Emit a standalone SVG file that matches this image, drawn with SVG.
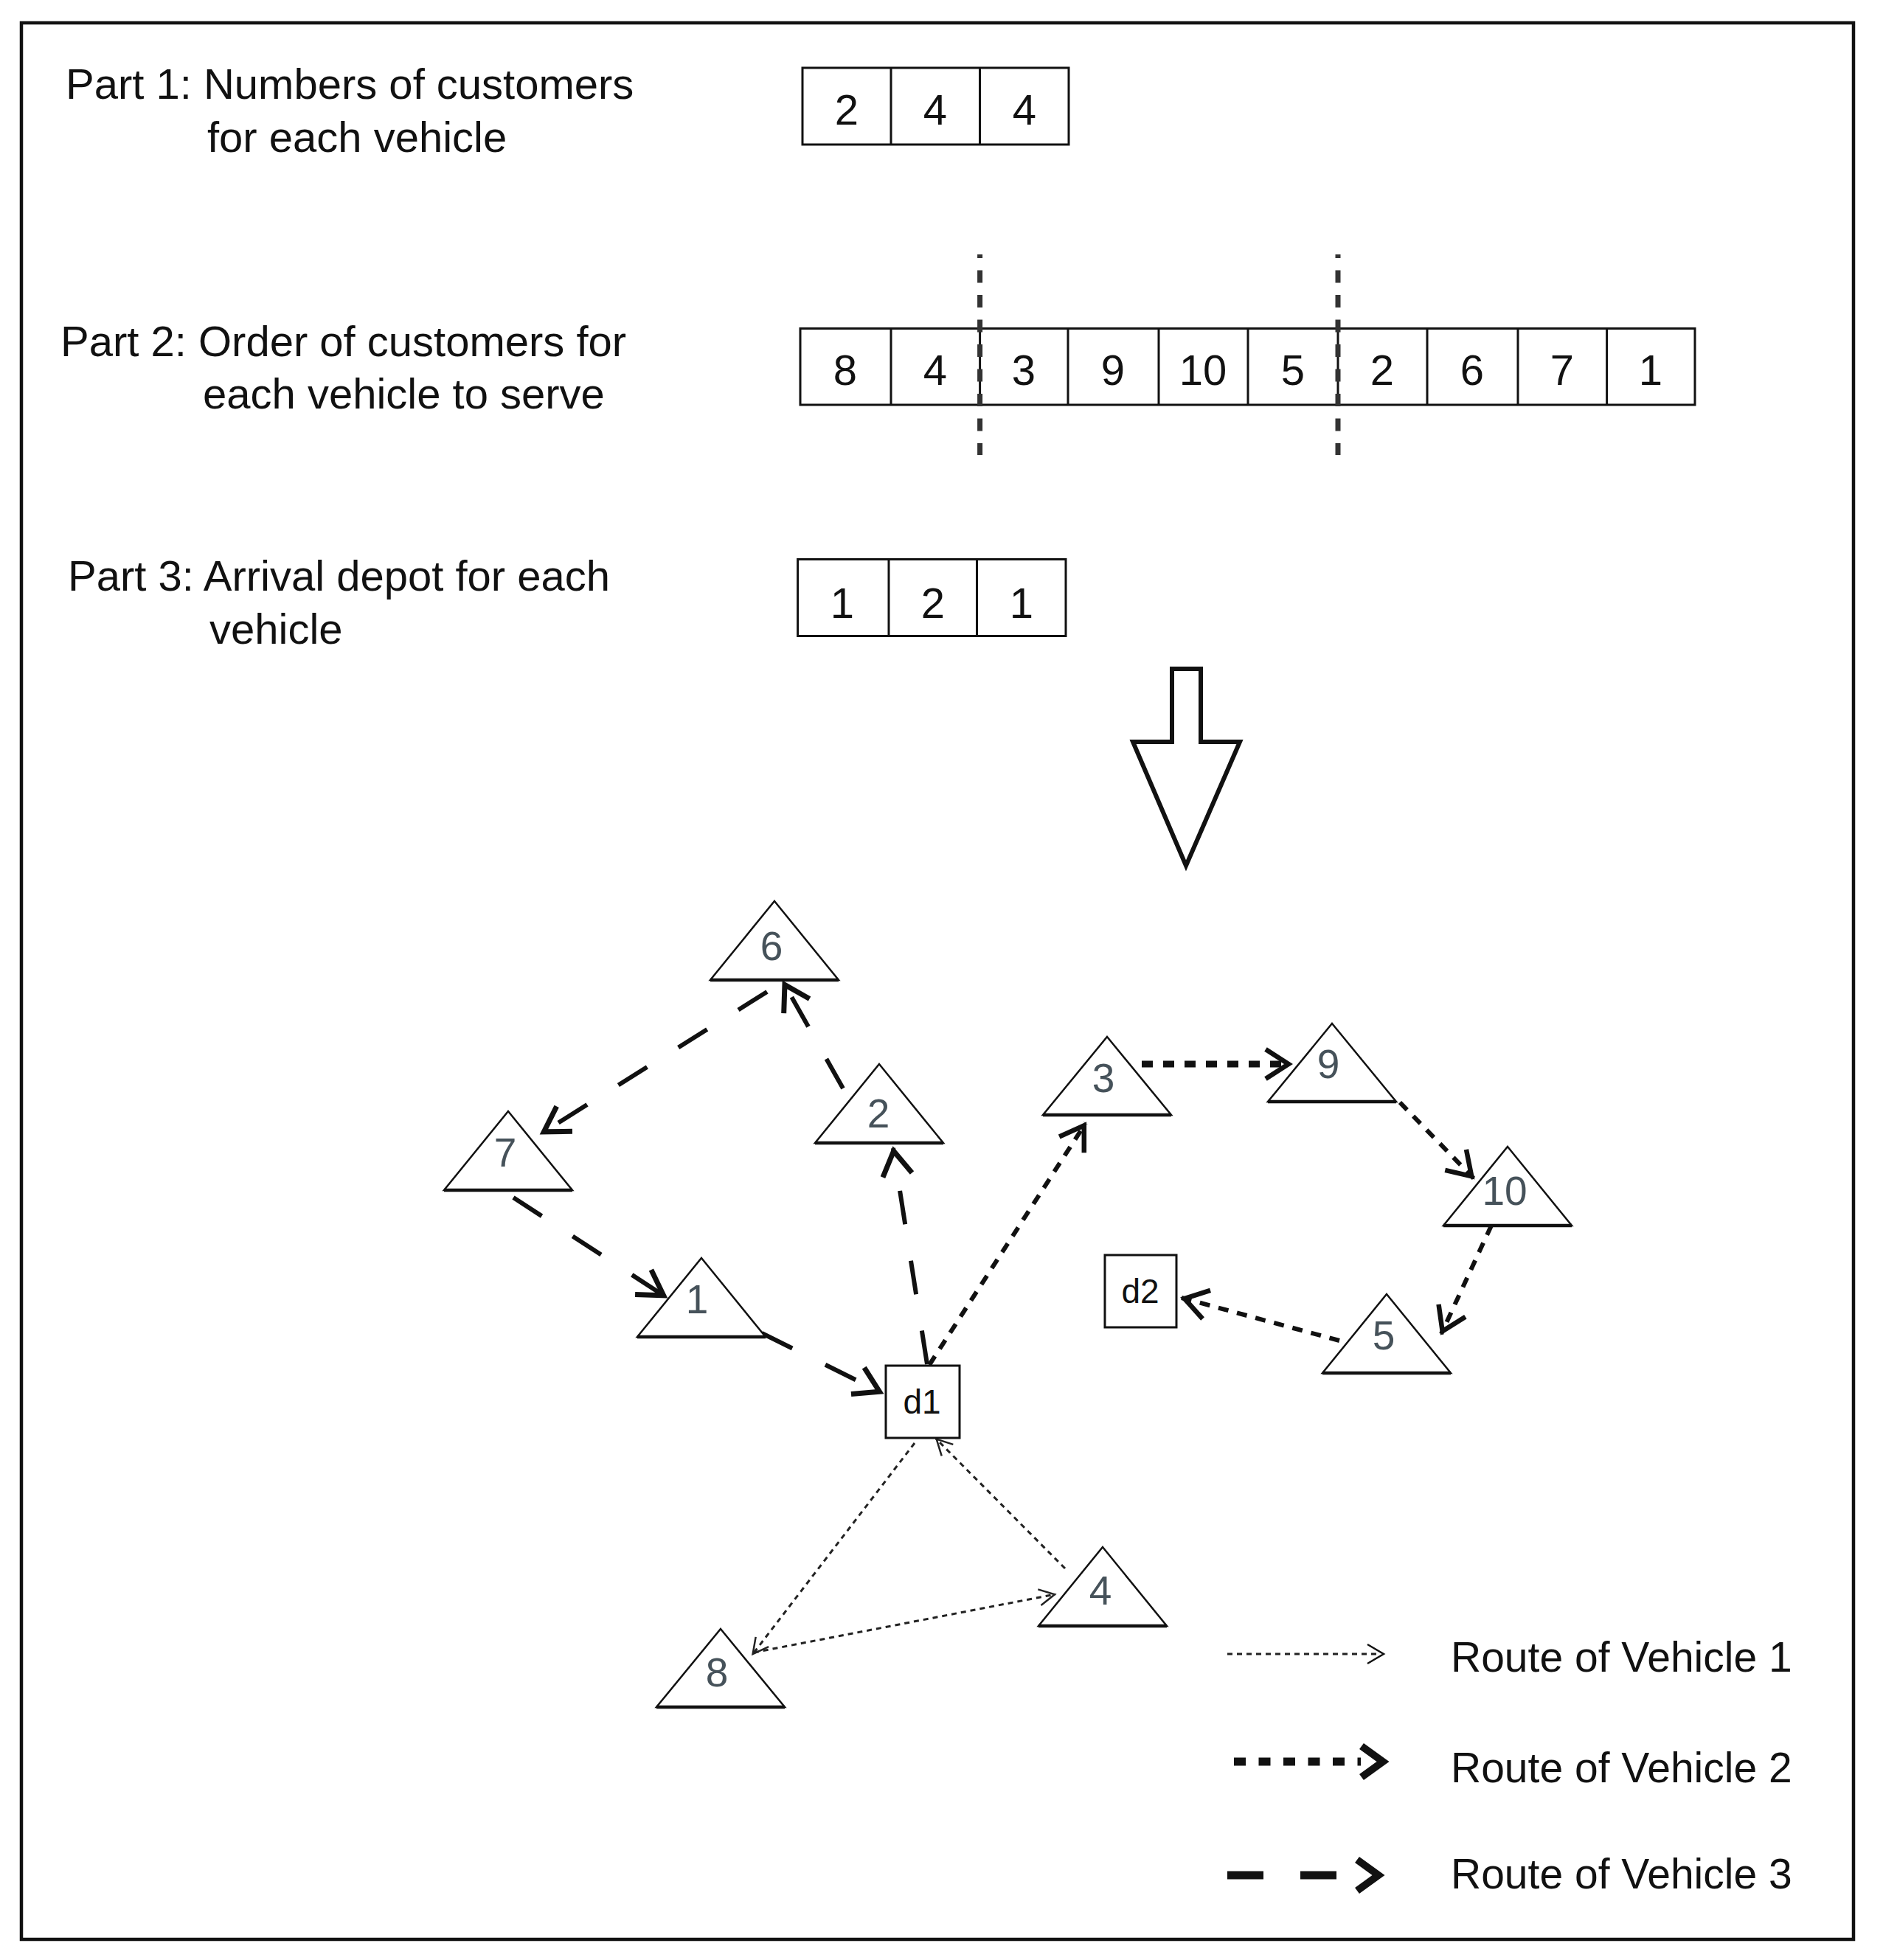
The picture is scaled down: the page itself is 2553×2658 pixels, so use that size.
<svg xmlns="http://www.w3.org/2000/svg" width="2553" height="2658" viewBox="0 0 2553 2658">
<style>
.t{font-family:"Liberation Sans",Arial,Helvetica,sans-serif;font-size:58px;fill:#111}
.lg{font-size:57px}
.c{text-anchor:middle}
.box{fill:#fff;stroke:#111;stroke-width:3}
.div{stroke:#111;stroke-width:3}
.sep{stroke:#333;stroke-width:7;stroke-dasharray:17 16.5;stroke-dashoffset:12}
.tri{fill:#fff;stroke:#111;stroke-width:2.5;stroke-linejoin:miter}
.base{stroke:#111;stroke-width:4.5}
.lab{font-family:"Liberation Sans",Arial,Helvetica,sans-serif;font-size:55px;fill:#46525a;text-anchor:middle}
.dep{fill:#fff;stroke:#111;stroke-width:3}
.dlab{font-family:"Liberation Sans",Arial,Helvetica,sans-serif;font-size:46px;fill:#111;text-anchor:middle}
.v1{fill:none;stroke:#222;stroke-width:3;stroke-dasharray:7 6;marker-end:url(#m1)}
.v2{fill:none;stroke:#111;stroke-width:6;stroke-dasharray:14 12;marker-end:url(#m2)}
.v2b{fill:none;stroke:#111;stroke-width:9;stroke-dasharray:15 14;marker-end:url(#m2)}
.v3{fill:none;stroke:#111;stroke-width:6;stroke-dasharray:46 50;marker-end:url(#m3)}
.ah{fill:none;stroke:#111;stroke-linejoin:miter}
</style>
<defs>
<marker id="m3" markerUnits="userSpaceOnUse" markerWidth="80" markerHeight="80" viewBox="-60 -40 80 80" refX="0" refY="0" orient="auto">
<path d="M-37,-20 L-4,0 L-37,20" fill="none" stroke="#111" stroke-width="7"/>
</marker>
<marker id="m2" markerUnits="userSpaceOnUse" markerWidth="80" markerHeight="80" viewBox="-60 -40 80 80" refX="0" refY="0" orient="auto">
<path d="M-35,-20 L-4,0 L-35,20" fill="none" stroke="#111" stroke-width="6.5"/>
</marker>
<marker id="m1" markerUnits="userSpaceOnUse" markerWidth="60" markerHeight="60" viewBox="-40 -30 60 60" refX="0" refY="0" orient="auto">
<path d="M-22,-11 L-1,0 L-22,11" fill="none" stroke="#222" stroke-width="2.5"/>
</marker>
</defs>
<rect width="2553" height="2658" fill="#fff"/>
<rect id="frame" x="29" y="31" width="2484" height="2599" fill="none" stroke="#111" stroke-width="4.5"/>

<g id="part1">
<text class="t" x="89" y="134">Part 1: Numbers of customers</text>
<text class="t" x="281" y="206">for each vehicle</text>
<rect class="box" x="1088" y="92" width="361" height="104"/>
<line class="div" x1="1208" y1="92" x2="1208" y2="196"/>
<line class="div" x1="1328.5" y1="92" x2="1328.5" y2="196"/>
<text class="t c" x="1148" y="169">2</text>
<text class="t c" x="1268" y="169">4</text>
<text class="t c" x="1389" y="169">4</text>
</g>

<g id="part2">
<text class="t" x="82" y="483">Part 2: Order of customers for</text>
<text class="t" x="275" y="554">each vehicle to serve</text>
<rect class="box" x="1085" y="445.5" width="1213" height="103.5"/>
<line class="div" x1="1208" y1="445.5" x2="1208" y2="549"/>
<line class="div" x1="1328.6" y1="445.5" x2="1328.6" y2="549"/>
<line class="div" x1="1448" y1="445.5" x2="1448" y2="549"/>
<line class="div" x1="1571" y1="445.5" x2="1571" y2="549"/>
<line class="div" x1="1692" y1="445.5" x2="1692" y2="549"/>
<line class="div" x1="1814" y1="445.5" x2="1814" y2="549"/>
<line class="div" x1="1935" y1="445.5" x2="1935" y2="549"/>
<line class="div" x1="2058" y1="445.5" x2="2058" y2="549"/>
<line class="div" x1="2178.6" y1="445.5" x2="2178.6" y2="549"/>
<text class="t c" x="1146" y="522">8</text>
<text class="t c" x="1268" y="522">4</text>
<text class="t c" x="1388" y="522">3</text>
<text class="t c" x="1509" y="522">9</text>
<text class="t c" x="1631" y="522">10</text>
<text class="t c" x="1753" y="522">5</text>
<text class="t c" x="1874" y="522">2</text>
<text class="t c" x="1996" y="522">6</text>
<text class="t c" x="2118" y="522">7</text>
<text class="t c" x="2238" y="522">1</text>
<line class="sep" x1="1328.6" y1="345" x2="1328.6" y2="617"/>
<line class="sep" x1="1814" y1="345" x2="1814" y2="617"/>
</g>

<g id="part3">
<text class="t" x="92" y="801">Part 3: Arrival depot for each</text>
<text class="t" x="284" y="873">vehicle</text>
<rect class="box" x="1081.6" y="758.5" width="363.4" height="104"/>
<line class="div" x1="1205" y1="758.5" x2="1205" y2="862.5"/>
<line class="div" x1="1324.5" y1="758.5" x2="1324.5" y2="862.5"/>
<text class="t c" x="1142" y="838">1</text>
<text class="t c" x="1265" y="838">2</text>
<text class="t c" x="1385" y="838">1</text>
</g>

<g id="big-arrow">
<polygon points="1589,907 1628,907 1628,1006 1681,1006 1608,1174 1536,1006 1589,1006" fill="#fff" stroke="#111" stroke-width="6" stroke-linejoin="miter"/>
</g>

<g id="connectors">
<path class="v3" d="M1257,1850 L1211,1557"/>
<path class="v3" d="M1143,1476 L1062,1332"/>
<path class="v3" d="M1040,1345 L734,1537"/>
<path class="v3" d="M696,1624 L903,1759"/>
<path class="v3" d="M1033,1808 L1196,1889"/>
<path class="v2" d="M1260,1851 L1472,1523"/>
<path class="v2b" d="M1548,1443 L1751,1443"/>
<path class="v2" d="M1898,1495 L1998,1598"/>
<path class="v2" d="M2022,1662 L1954,1809"/>
<path class="v2" d="M1816,1818 L1602,1760"/>
<path class="v1" d="M1240,1957 L1020,2244"/>
<path class="v1" d="M1022,2241 L1431,2162"/>
<path class="v1" d="M1444,2127 L1269,1951"/>
</g>

<g id="node-6"><polygon class="tri" points="1050,1222 1137,1329 963,1329"/><line class="base" x1="963" y1="1329" x2="1137" y2="1329"/><text class="lab" x="1046" y="1302">6</text></g>
<g id="node-7"><polygon class="tri" points="689,1507 776,1614 602,1614"/><line class="base" x1="602" y1="1614" x2="776" y2="1614"/><text class="lab" x="685" y="1582">7</text></g>
<g id="node-2"><polygon class="tri" points="1192,1443 1279,1550 1105,1550"/><line class="base" x1="1105" y1="1550" x2="1279" y2="1550"/><text class="lab" x="1191" y="1529">2</text></g>
<g id="node-1"><polygon class="tri" points="951,1706 1038,1813 864,1813"/><line class="base" x1="864" y1="1813" x2="1038" y2="1813"/><text class="lab" x="945" y="1781">1</text></g>
<g id="node-3"><polygon class="tri" points="1501,1406 1588,1512 1414,1512"/><line class="base" x1="1414" y1="1512" x2="1588" y2="1512"/><text class="lab" x="1496" y="1481">3</text></g>
<g id="node-9"><polygon class="tri" points="1806,1388 1893,1494 1719,1494"/><line class="base" x1="1719" y1="1494" x2="1893" y2="1494"/><text class="lab" x="1801" y="1462">9</text></g>
<g id="node-10"><polygon class="tri" points="2044,1555 2131,1662 1957,1662"/><line class="base" x1="1957" y1="1662" x2="2131" y2="1662"/><text class="lab" x="2040" y="1634">10</text></g>
<g id="node-5"><polygon class="tri" points="1880,1755 1967,1862 1793,1862"/><line class="base" x1="1793" y1="1862" x2="1967" y2="1862"/><text class="lab" x="1876" y="1830">5</text></g>
<g id="node-8"><polygon class="tri" points="977,2209 1064,2315 890,2315"/><line class="base" x1="890" y1="2315" x2="1064" y2="2315"/><text class="lab" x="972" y="2287">8</text></g>
<g id="node-4"><polygon class="tri" points="1495,2098 1582,2205 1408,2205"/><line class="base" x1="1408" y1="2205" x2="1582" y2="2205"/><text class="lab" x="1492" y="2176">4</text></g>
<g id="node-d1"><rect class="dep" x="1201" y="1852" width="100" height="98"/><text class="dlab" x="1250" y="1917">d1</text></g>
<g id="node-d2"><rect class="dep" x="1498" y="1702" width="97" height="98"/><text class="dlab" x="1546" y="1767">d2</text></g>

<g id="legend">
<line x1="1664" y1="2243" x2="1870" y2="2243" stroke="#222" stroke-width="3" stroke-dasharray="7 6"/>
<path class="ah" d="M1854,2230 L1876,2243 L1854,2256" stroke-width="2.5"/>
<text class="t lg" x="1967" y="2267">Route of Vehicle 1</text>
<line x1="1673" y1="2389" x2="1845" y2="2389" stroke="#111" stroke-width="11" stroke-dasharray="16 17.5"/>
<path class="ah" d="M1846,2368 L1875,2389 L1846,2410" stroke-width="10"/>
<text class="t lg" x="1967" y="2417">Route of Vehicle 2</text>
<line x1="1664" y1="2543" x2="1713" y2="2543" stroke="#111" stroke-width="11"/>
<line x1="1763" y1="2543" x2="1812" y2="2543" stroke="#111" stroke-width="11"/>
<path class="ah" d="M1840,2522 L1869,2543 L1840,2564" stroke-width="10"/>
<text class="t lg" x="1967" y="2561">Route of Vehicle 3</text>
</g>
</svg>
